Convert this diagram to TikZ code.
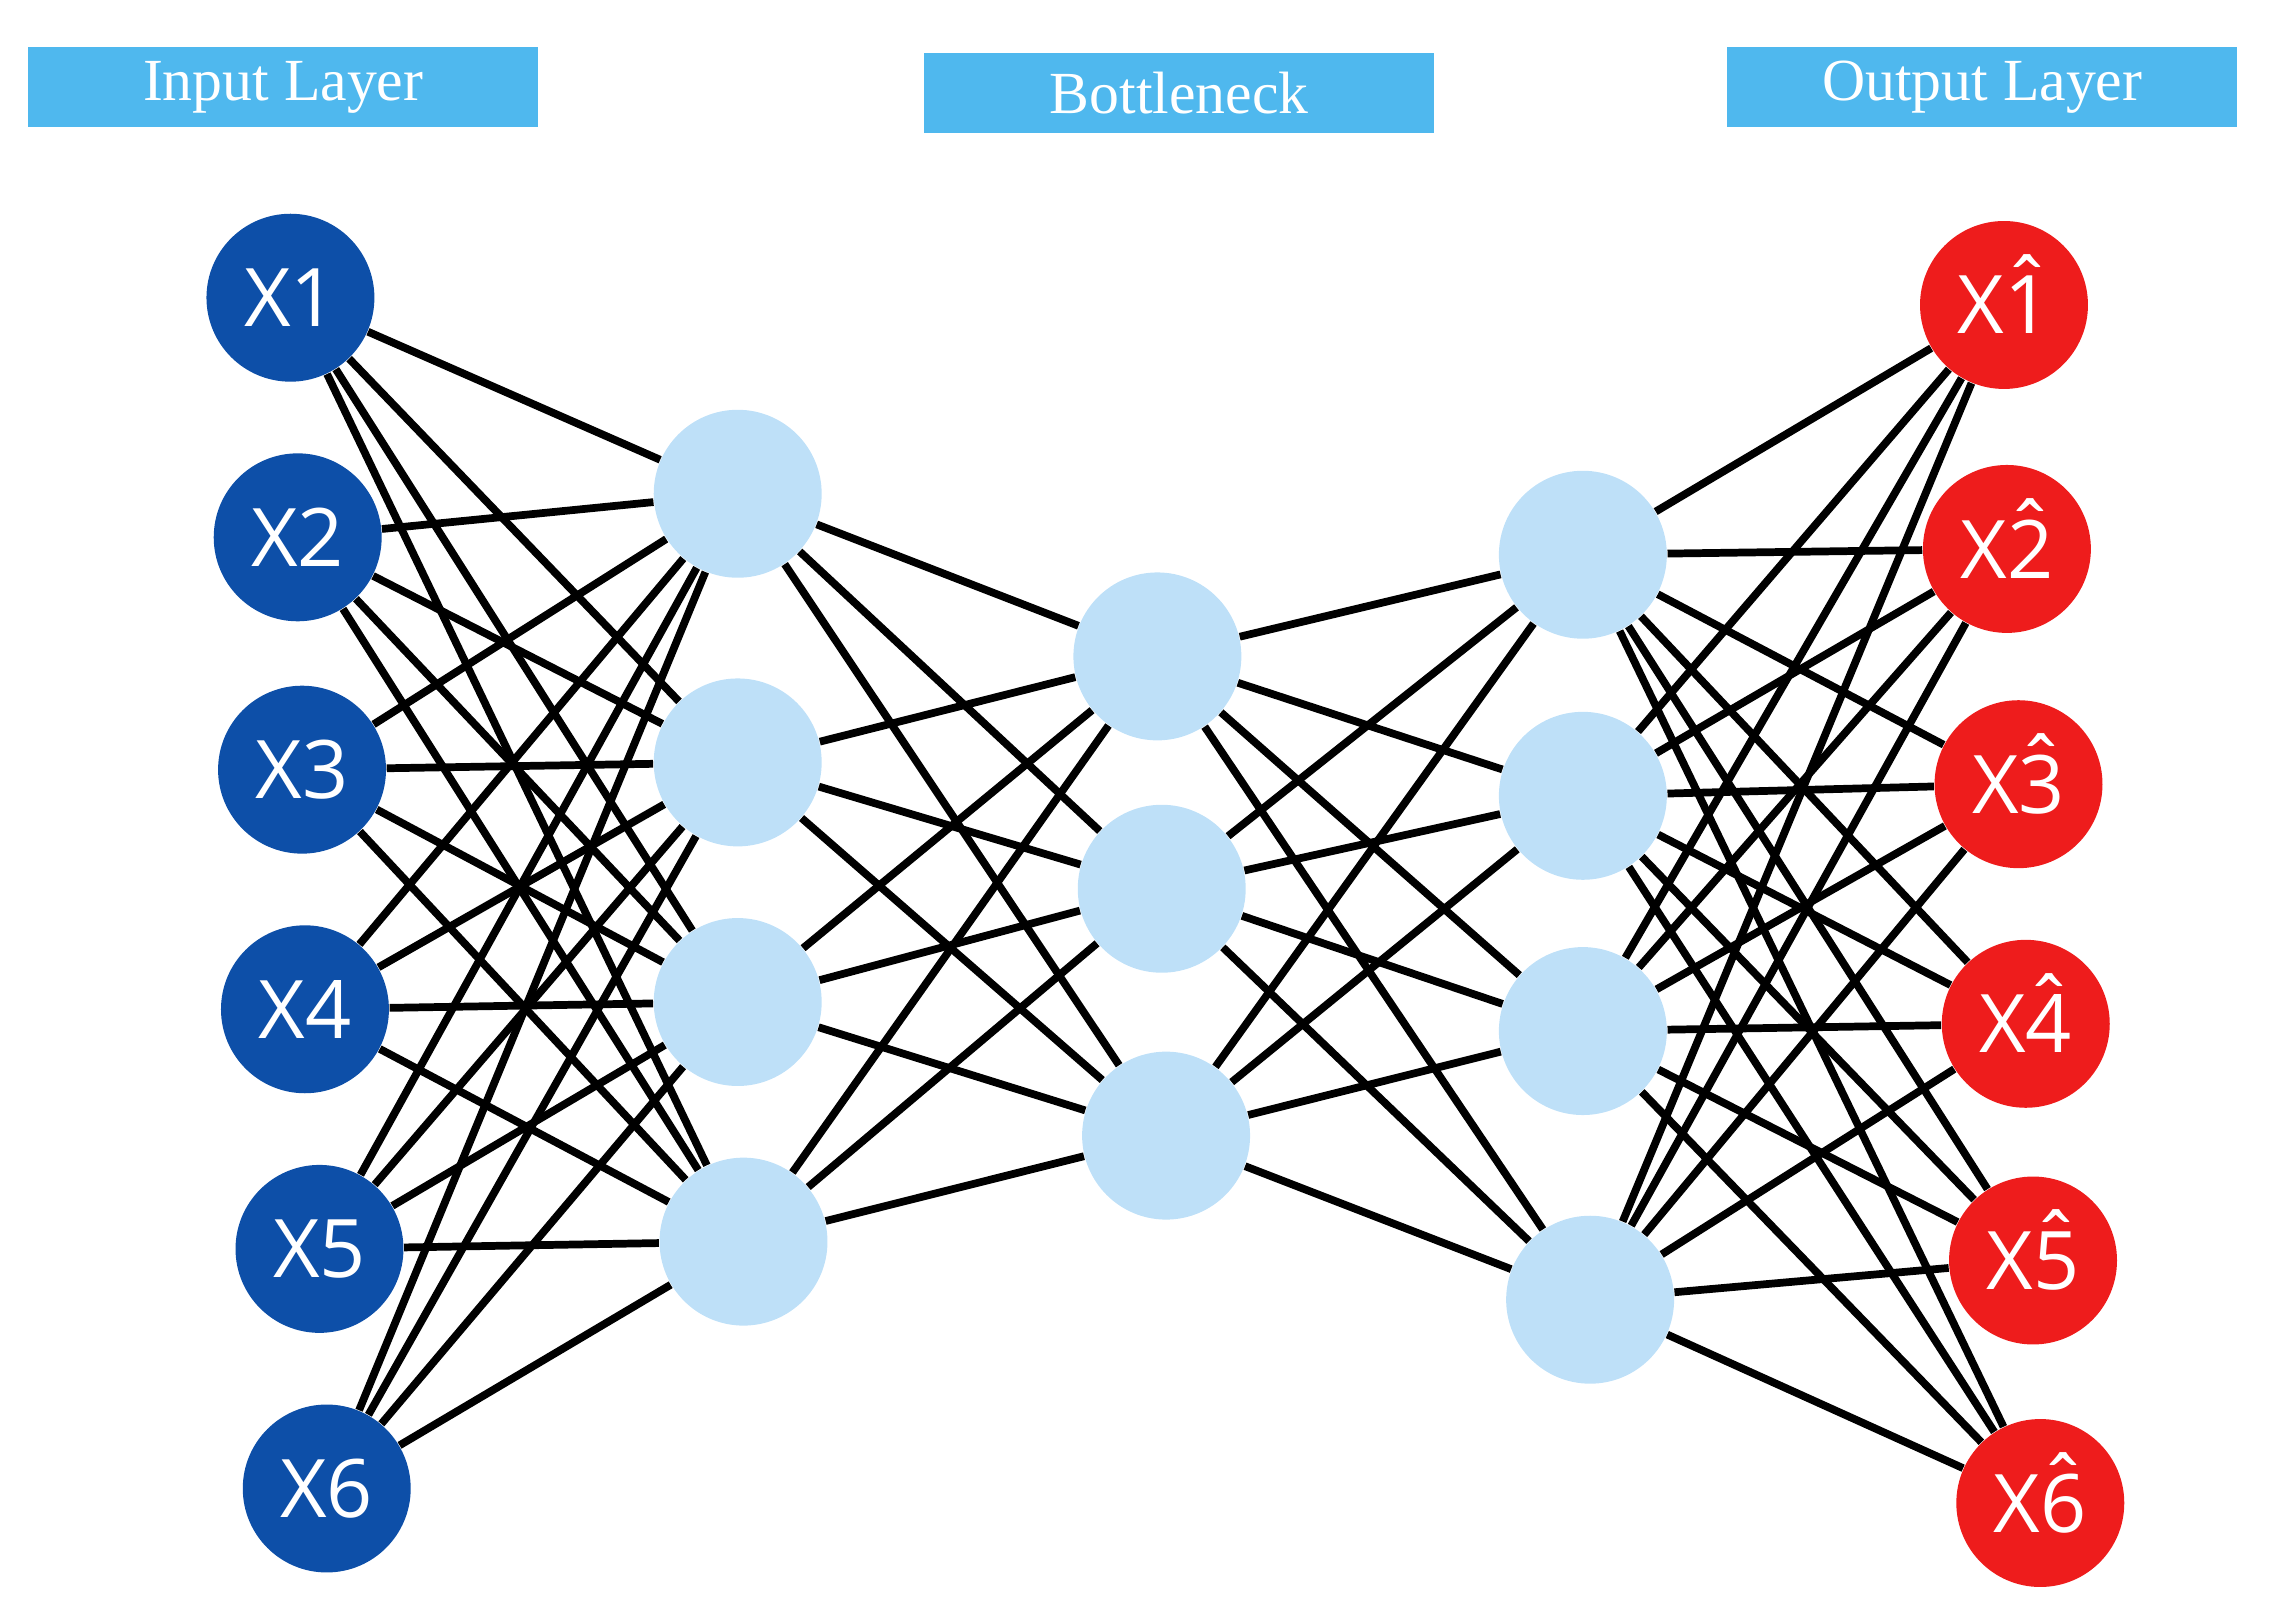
\documentclass[tikz,border=0pt]{standalone}
\usepackage{fontspec}
\setmainfont{Open Sans}
\newfontfamily\bannerfont{Liberation Serif}
\definecolor{dblue}{HTML}{0D4FA8}
\definecolor{lblue}{HTML}{BEE0F8}
\definecolor{nred}{HTML}{EE1C1C}
\definecolor{banner}{HTML}{4FB8EE}
\newcommand{\hatdigit}[1]{\hbox{\ooalign{#1\cr\hidewidth\raisebox{0.22em}{ˆ}\hidewidth\cr}}}
\begin{document}
\begin{tikzpicture}[x=0.01452cm,y=-0.01452cm,
  inn/.style={circle,fill=dblue,minimum size=1.68cm,inner sep=0pt,text=white,font=\fontsize{23}{23}\selectfont},
  hid/.style={circle,fill=lblue,minimum size=1.68cm,inner sep=0pt},
  outn/.style={circle,fill=nred,minimum size=1.68cm,inner sep=0pt,text=white,font=\fontsize{23}{23}\selectfont},
  ban/.style={fill=banner,minimum width=5.1cm,minimum height=0.8cm,text=white,font=\bannerfont\fontsize{17}{17}\selectfont},
  edge/.style={line width=2.2pt,black}]
\useasboundingbox (0,0) rectangle (1568,1110);
\node[ban] (b1) at (195,60) {Input Layer};
\node[ban] (b2) at (812,64) {Bottleneck};
\node[ban] (b3) at (1365,60) {Output Layer};
\foreach \n/\x/\y in {1/200/205,2/205/370,3/208/530,4/210/695,5/220/860,6/225/1025}
  \node[inn] (i\n) at (\x,\y) {X\n};
\foreach \n/\x/\y in {1/508/340,2/508/525,3/508/690,4/512/855}
  \node[hid] (h\n) at (\x,\y) {};
\foreach \n/\x/\y in {1/797/452,2/800/612,3/803/782}
  \node[hid] (c\n) at (\x,\y) {};
\foreach \n/\x/\y in {1/1090/382,2/1090/548,3/1090/710,4/1095/895}
  \node[hid] (g\n) at (\x,\y) {};
\foreach \n/\x/\y in {1/1380/210,2/1382/378,3/1390/540,4/1395/705,5/1400/868,6/1405/1035}
  \node[outn] (o\n) at (\x,\y) {X\hatdigit{\n}};
\foreach \a in {1,...,6}\foreach \b in {1,...,4} \draw[edge] (i\a) -- (h\b);
\foreach \a in {1,...,4}\foreach \b in {1,...,3} \draw[edge] (h\a) -- (c\b);
\foreach \a in {1,...,3}\foreach \b in {1,...,4} \draw[edge] (c\a) -- (g\b);
\foreach \a in {1,...,4}\foreach \b in {1,...,6} \draw[edge] (g\a) -- (o\b);
\end{tikzpicture}
\end{document}
